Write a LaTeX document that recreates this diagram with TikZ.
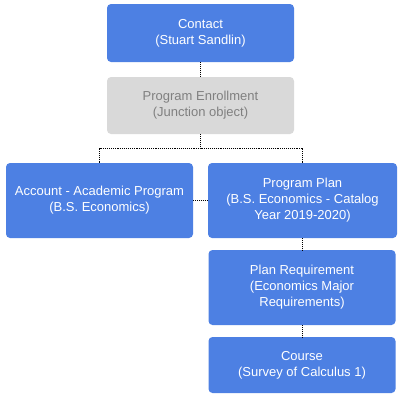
\documentclass[tikz,border=0pt]{standalone}
\usepackage{fontspec}
\setmainfont{Liberation Sans}
\usetikzlibrary{positioning}
\definecolor{boxblue}{RGB}{77,128,227}
\definecolor{boxgray}{RGB}{217,217,217}
\definecolor{textgray}{RGB}{128,128,128}

\begin{document}
\begin{tikzpicture}[x=1pt, y=-1pt, font=\fontsize{13}{16}\selectfont,
    main/.style = {fill=boxblue, text=white, rounded corners=4pt, align=center,
                   minimum width=187pt, inner sep=0pt},
    junction/.style = {main, fill=boxgray, text=textgray},
    link/.style = {densely dotted, line width=0.9pt}]
    \useasboundingbox (0,0) rectangle (400,400);
    \node[main, minimum height=58pt] (contact) at (200.5,33) {Contact\\(Stuart Sandlin)};
    \node[junction, minimum height=57pt] (enroll) at (200.5,105.5) {Program Enrollment\\(Junction object)};
    \node[main, minimum height=75pt] (account) at (99.5,200.5) {Account - Academic Program\\(B.S. Economics)};
    \node[main, minimum height=75pt, minimum width=189pt] (plan) at (302.5,200.5) {Program Plan\\(B.S. Economics - Catalog\\Year 2019-2020)};
    \node[main, minimum height=75pt] (req) at (302,287.5) {Plan Requirement\\(Economics Major\\Requirements)};
    \node[main, minimum height=56pt] (course) at (302,365) {Course\\(Survey of Calculus 1)};
    \coordinate (split) at (200.5,148);
    \draw[link] (contact) -- (enroll);
    \draw[link] (enroll) -- (split) -| (account);
    \draw[link] (split) -| (plan.north -| req.north);
    \draw[link] (account) -- (plan);
    \draw[link] (plan.south -| req.north) -- (req);
    \draw[link] (req) -- (course);
\end{tikzpicture}
\end{document}
